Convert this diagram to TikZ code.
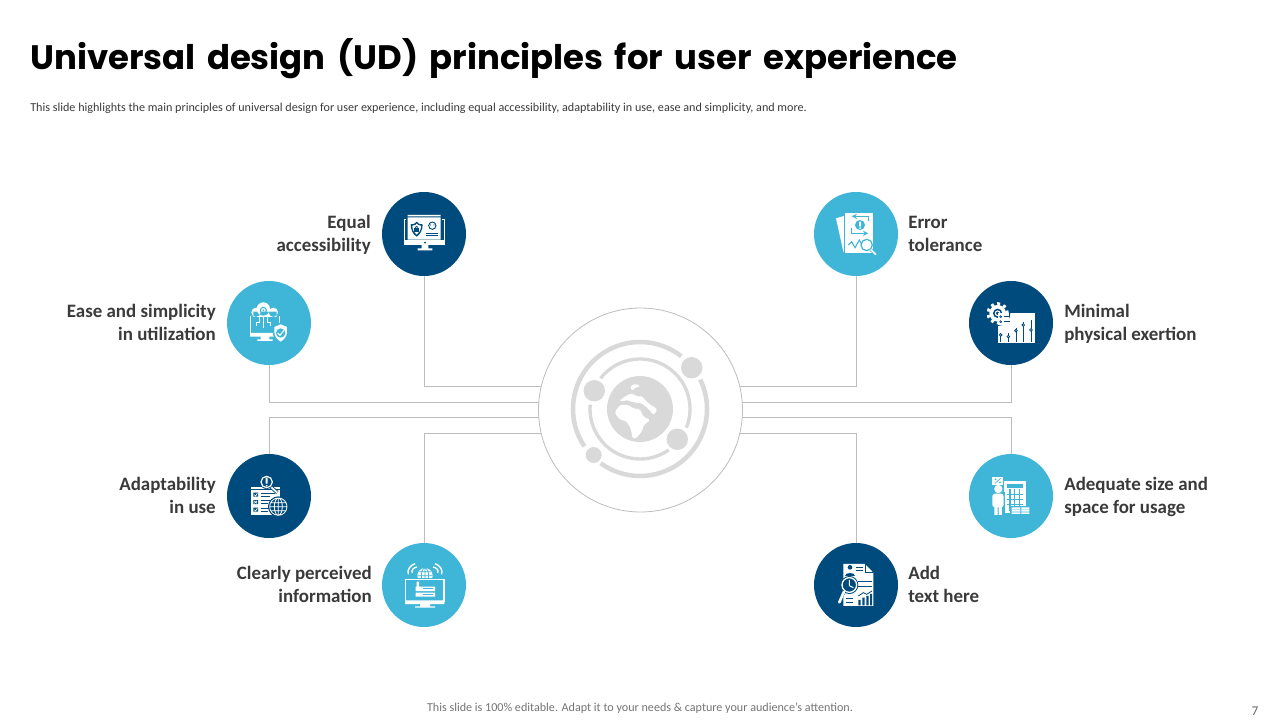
\documentclass[tikz,border=0pt]{standalone}
\usepackage{fontspec}
\usetikzlibrary{calc}
\setmainfont{Carlito}
\newfontfamily\titlefont[WordSpace=1.6]{Poppins}
\newcommand{\firstline}{\rule{0pt}{11pt}}
\definecolor{navy}{HTML}{004B7D}
\definecolor{sky}{HTML}{3FB6D8}
\definecolor{wire}{HTML}{BDBDBD}
\definecolor{hubgrey}{HTML}{D9D9D9}
\definecolor{labelgrey}{HTML}{3A3A3A}
\tikzset{
 x=0.75pt,y=-0.75pt,
 disc/.style={circle,minimum size=63pt,inner sep=0pt,outer sep=0pt},
 darkdisc/.style={disc,fill=navy},
 lightdisc/.style={disc,fill=sky},
 hubnode/.style={circle,draw=wire,line width=0.6pt,fill=white,minimum size=153pt,inner sep=0pt,outer sep=0pt},
 wireline/.style={draw=wire,line width=0.7pt},
 lbl/.style={font=\fontsize{14.2}{17.25}\selectfont\bfseries,text=labelgrey,inner sep=0pt},
 lblr/.style={lbl,align=right,anchor=north east},
 lbll/.style={lbl,align=left,anchor=north west},
 ring/.style={draw=hubgrey,line cap=butt},
 zoomed/.style={scale=0.3333},
 thin line/.style={line width=0.75pt},
}
\begin{document}
\begin{tikzpicture}
\useasboundingbox (0,0) rectangle (1280,720);
% title block
\node[anchor=west,inner sep=0pt,font=\fontsize{25.43}{30}\selectfont\titlefont\bfseries] (title) at (30,59) {Universal design (UD) principles for user experience};
\node[anchor=west,inner sep=0pt,text=labelgrey,font=\fontsize{9.1}{11}\selectfont] (sub) at (30,108.5) {This slide highlights the main principles of universal design for user experience, including equal accessibility, adaptability in use, ease and simplicity, and more.};
% nodes
\node[hubnode] (hub) at (640.5,410) {};
\node[darkdisc] (eq) at (424,234) {};
\node[lightdisc] (ease) at (269,323) {};
\node[darkdisc] (adapt) at (269,496) {};
\node[lightdisc] (clear) at (424,585) {};
\node[lightdisc] (err) at (856,234) {};
\node[darkdisc] (minim) at (1011,323) {};
\node[lightdisc] (adeq) at (1011,496) {};
\node[darkdisc] (add) at (856,585) {};
% connectors
\draw[wireline] (eq.south) |- ($(hub.center)+(-99.1,-24)$);
\draw[wireline] (err.south) |- ($(hub.center)+(99.1,-24)$);
\draw[wireline] (ease.south) |- ($(hub.center)+(-101.7,-7.5)$);
\draw[wireline] (minim.south) |- ($(hub.center)+(101.7,-7.5)$);
\draw[wireline] (adapt.north) |- ($(hub.center)+(-101.7,7.5)$);
\draw[wireline] (adeq.north) |- ($(hub.center)+(101.7,7.5)$);
\draw[wireline] (clear.north) |- ($(hub.center)+(-99.1,23.5)$);
\draw[wireline] (add.north) |- ($(hub.center)+(99.1,23.5)$);
% labels
\node[lblr] (l1) at (371,213.5) {\firstline Equal\\accessibility};
\node[lblr] (l2) at (216,302.5) {\firstline Ease and simplicity\\in utilization};
\node[lblr] (l3) at (216,475.5) {\firstline Adaptability\\in use};
\node[lblr] (l4) at (372,564.5) {\firstline Clearly perceived\\information};
\node[lbll] (l5) at (908,213.5) {\firstline Error\\tolerance};
\node[lbll] (l6) at (1064,302.5) {\firstline Minimal\\physical exertion};
\node[lbll] (l7) at (1064,475.5) {\firstline Adequate size and\\space for usage};
\node[lbll] (l8) at (908,564.5) {\firstline Add\\text here};
% footer
\node[inner sep=0pt,text=black!55,font=\fontsize{9.08}{11}\selectfont] (foot) at (640,708.5) {This slide is 100\% editable. Adapt it to your needs \& capture your audience’s attention.};
\node[inner sep=0pt,text=black!60,font=\fontsize{10}{11}\selectfont] (pg) at (1255,711) {7};
% hub emblem
\begin{scope}[shift={(640,409)}]
 \fill[hubgrey] (0,0) circle (33);
 \fill[hubgrey] (51.7,-41.3) circle (10.7) (-45.7,-18.3) circle (10.7) (37.3,30.3) circle (10.7) (-46.3,46) circle (8);
 \draw[ring,line width=3.4pt] (-214:67) arc[start angle=-214,end angle=-52,radius=67];
 \draw[ring,line width=3.4pt] (-386:67) arc[start angle=-386,end angle=-234,radius=67];
 \draw[ring,line width=2.5pt] (-142:50) arc[start angle=-142,end angle=22,radius=50];
 \draw[ring,line width=2.5pt] (-305:50) arc[start angle=-305,end angle=-175,radius=50];
 \begin{scope}[shift={(-40,-39)},zoomed]
  \fill[white,rounded corners=1pt] (92,48)--(104,42)--(120,46)--(117,52)--(107,51)--(103,58)--(96,62)--(92,56)--cycle;
  \fill[white,rounded corners=1pt] (58,92)--(72,82)--(88,72)--(100,72)--(112,80)--(125,78)--(140,95)--(152,105)--(165,112)--(172,120)--(160,135)--(150,122)--(138,110)--(125,100)--(108,98)--(95,95)--(80,90)--(65,95)--cycle;
  \fill[white,rounded corners=1pt] (45,125)--(60,105)--(85,105)--(100,115)--(120,118)--(130,140)--(150,150)--(132,165)--(125,185)--(108,205)--(98,205)--(92,175)--(80,155)--(60,148)--(48,135)--cycle;
 \end{scope}
\end{scope}
% icon: equal accessibility
\begin{scope}[shift={(395,205)},zoomed]
 \draw[white,thin line] (28,45) rectangle (147,118);
 \fill[white] (28,106) rectangle (147,120);
 \fill[white] (80,120) rectangle (100,130) (68,130) rectangle (112,136);
 \fill[navy] (34,30) rectangle (141,106);
 \fill[white] (38,30) rectangle (137,34) (38,37) rectangle (137,104);
 \fill[navy] (47,58) .. controls (58,58) and (62,54) .. (65,50) .. controls (68,54) and (72,58) .. (83,58) .. controls (83,75) and (76,88) .. (65,95) .. controls (54,88) and (47,75) .. (47,58) -- cycle;
 \fill[white] (52,62) .. controls (60,62) and (63,59) .. (65,56) .. controls (67,59) and (70,62) .. (78,62) .. controls (78,74) and (73,83) .. (65,89) .. controls (57,83) and (52,74) .. (52,62) -- cycle;
 \fill[navy] (58,68) rectangle (72,81);
 \draw[navy,line width=0.6pt] (61,68) arc[start angle=180,end angle=360,radius=4];
 \draw[navy,line width=0.7pt] (112,62) circle (11);
 \fill[navy] (107,60) circle (2) (117,60) circle (2);
 \draw[navy,line width=0.7pt] (92,84)--(128,84) (92,92)--(128,92);
 \fill[navy] (90,113) circle (3);
\end{scope}
% icon: ease and simplicity
\begin{scope}[shift={(240,295)},zoomed]
 \fill[white] (70,42) circle (20) (48,52) circle (14) (100,52) circle (14) (40,50) rectangle (110,66);
 \draw[sky,line width=0.8pt] (70,46) circle (9);
 \fill[sky] (70,46) circle (3);
 \draw[white,thin line] (30,62)--(30,118) (118,62)--(118,92);
 \fill[white] (30,114) rectangle (108,125) (62,125) rectangle (88,133) (52,133) rectangle (98,138);
 \draw[white,line width=0.6pt] (58,66)--(58,82)--(48,82)--(48,92) (70,66)--(70,100) (82,66)--(82,82)--(92,82)--(92,92);
 \fill[sky] (122,82) -- (146,92) -- (146,112) .. controls (146,128) and (132,140) .. (122,146) .. controls (112,140) and (98,128) .. (98,112) -- (98,92) -- cycle;
 \fill[white] (122,88) -- (141,96) -- (141,112) .. controls (141,125) and (130,135) .. (122,140) .. controls (114,135) and (103,125) .. (103,112) -- (103,96) -- cycle;
 \fill[sky] (122,114) circle (14);
 \draw[white,line width=0.8pt] (113,114)--(120,121)--(132,106);
\end{scope}
% icon: adaptability
\begin{scope}[shift={(240,466)},zoomed]
 \fill[white] (33,62) rectangle (120,148);
 \fill[navy] (33,70) rectangle (120,73);
 \fill[navy] (40,80) rectangle (54,92) (40,102) rectangle (54,114) (40,125) rectangle (54,137);
 \draw[white,line width=0.5pt] (43,86)--(47,90)--(52,82) (43,105)--(51,112) (51,105)--(43,112) (43,131)--(47,135)--(52,127);
 \draw[navy,line width=0.7pt] (62,82)--(105,82) (62,90)--(90,90) (62,104)--(100,104) (62,112)--(85,112) (62,127)--(90,127) (62,135)--(85,135);
 \draw[navy,line width=2.6pt] (92,62)--(112,80);
 \draw[white,line width=1.3pt] (92,62)--(112,80);
 \fill[navy] (80,48) circle (21);
 \draw[white,line width=0.9pt] (80,48) circle (17);
 \fill[white] (77,35) rectangle (83,53) (80,59) circle (3);
 \fill[navy] (115,122) circle (31);
 \draw[white,line width=0.6pt] (115,122) circle (26) (115,122) ellipse (12 and 26) (115,96)--(115,148) (89,122)--(141,122) (92,110)--(138,110) (92,134)--(138,134);
\end{scope}
% icon: clearly perceived
\begin{scope}[shift={(395,555)},zoomed]
 \fill[white] (90,62) circle (23);
 \draw[sky,line width=0.5pt] (90,62) ellipse (11 and 23) (90,39)--(90,85) (67,62)--(113,62) (71,50)--(109,50);
 \draw[white,line width=1pt] (40,58) .. controls (35,45) and (46,30) .. (60,26) (52,54) .. controls (48,46) and (55,38) .. (66,36);
 \draw[white,line width=1pt] (140,58) .. controls (145,45) and (134,30) .. (120,26) (128,54) .. controls (132,46) and (125,38) .. (114,36);
 \fill[sky] (30,70) rectangle (148,145);
 \draw[white,line width=0.9pt] (31,73) rectangle (147,140);
 \fill[white] (30,136) rectangle (148,147) (75,147) rectangle (105,154) (60,154) rectangle (120,158);
 \fill[white] (62,95) rectangle (120,108) (62,113) rectangle (120,125) (65,80) rectangle (72,97);
 \draw[sky,line width=0.4pt] (85,101)--(115,101) (85,119)--(115,119);
\end{scope}
% icon: error tolerance
\begin{scope}[shift={(810,185)},zoomed]
 \fill[white] (78,100)--(105,92)--(112,205)--(100,200)--cycle;
 \fill[sky] (101,80) rectangle (105,207);
 \fill[white] (105,83) rectangle (190,205);
 \draw[sky,line width=0.8pt,-stealth] (175,108)--(175,94)--(125,94);
 \draw[sky,line width=0.8pt,-stealth] (125,130)--(125,145)--(175,145);
 \fill[sky] (150,120) circle (15);
 \fill[white] (147,110) rectangle (153,124) (150,129) circle (3);
 \draw[sky,line width=0.8pt] (115,180)--(125,170)--(135,188)--(148,165)--(155,178);
 \draw[sky,line width=0.9pt] (170,180) circle (17);
 \draw[sky,line width=2.2pt] (182,193)--(190,202);
 \draw[white,line width=1.2pt] (182,193)--(198,209);
\end{scope}
% icon: minimal exertion
\begin{scope}[shift={(810,185)},zoomed]
 \fill[white] (563,385) rectangle (675,475);
 \fill[navy] (563,385) circle (38);
 \fill[white] (563,385) circle (25);
 \draw[white,line width=2.2pt,dash pattern=on 2.2pt off 2.6pt] (563,385) circle (29);
 \fill[navy] (563,385) circle (14);
 \draw[white,line width=0.8pt] (563,385) circle (7);
 \fill[white] (563,385) rectangle (598,420);
 \draw[navy,line width=0.5pt] (572,395) circle (3) (572,410) circle (3);
 \draw[navy,line width=0.7pt] (583,395)--(600,395) (583,410)--(600,410) (572,445)--(572,470) (595,445)--(595,470) (618,428)--(618,470) (640,410)--(640,470) (663,406)--(663,470);
 \foreach \kx/\ky in {572/450,595/455,618/437,640/420,663/435} {\draw[navy,fill=white,line width=0.6pt] (\kx,\ky) circle (4);}
\end{scope}
% icon: adequate size
\begin{scope}[shift={(810,450)},zoomed]
 \fill[white] (582,93) rectangle (648,190);
 \fill[sky] (590,101) rectangle (640,114);
 \draw[sky,line width=0.8pt] (600,118)--(600,182) (614,118)--(614,182) (628,118)--(628,182) (590,133)--(640,133) (590,148)--(640,148) (590,163)--(640,163);
 \fill[sky] (578,125) rectangle (584,195);
 \fill[white] (565,117) circle (12.5);
 \fill[white,rounded corners=2pt] (547,131) rectangle (581,172);
 \fill[white] (553,165) rectangle (563,195) (566,165) rectangle (576,195);
 \fill[white] (547,80) rectangle (580,105);
 \draw[sky,line width=0.5pt] (555,100)--(572,85);
 \fill[sky] (557,88) circle (3) (570,97) circle (3);
 \fill[sky] (601,168) rectangle (662,194);
 \fill[white] (605,172) rectangle (631,178) (605,180) rectangle (631,185) (605,187) rectangle (631,192) (634,172) rectangle (658,178) (634,180) rectangle (658,185) (634,187) rectangle (658,192);
\end{scope}
% icon: add text here
\begin{scope}[shift={(810,450)},zoomed]
 \fill[white] (100,342)--(165,342)--(190,368)--(190,468)--(100,468)--cycle;
 \draw[navy,line width=0.6pt] (165,342)--(165,368)--(190,368);
 \fill[navy] (120,352) circle (7);
 \fill[navy] (105,377) .. controls (105,365) and (135,365) .. (135,377) -- cycle;
 \draw[navy,line width=0.7pt] (138,352)--(160,352) (138,362)--(160,362) (145,395)--(185,395) (145,410)--(185,410) (108,445)--(130,445) (108,458)--(130,458);
 \fill[navy] (118,405) circle (27);
 \draw[white,line width=1pt] (118,405) circle (22);
 \draw[white,line width=0.7pt] (118,390)--(118,407)--(130,413);
 \draw[navy,line width=3.2pt] (102,423)--(90,445);
 \draw[white,line width=2pt,line cap=round] (102,425)--(88,457);
 \fill[navy] (145,450) rectangle (152,466) (157,443) rectangle (164,466) (169,438) rectangle (176,466) (180,432) rectangle (186,466);
 \draw[navy,line width=0.6pt] (145,438)--(160,428)--(170,433)--(186,423);
\end{scope}
\end{tikzpicture}
\end{document}
